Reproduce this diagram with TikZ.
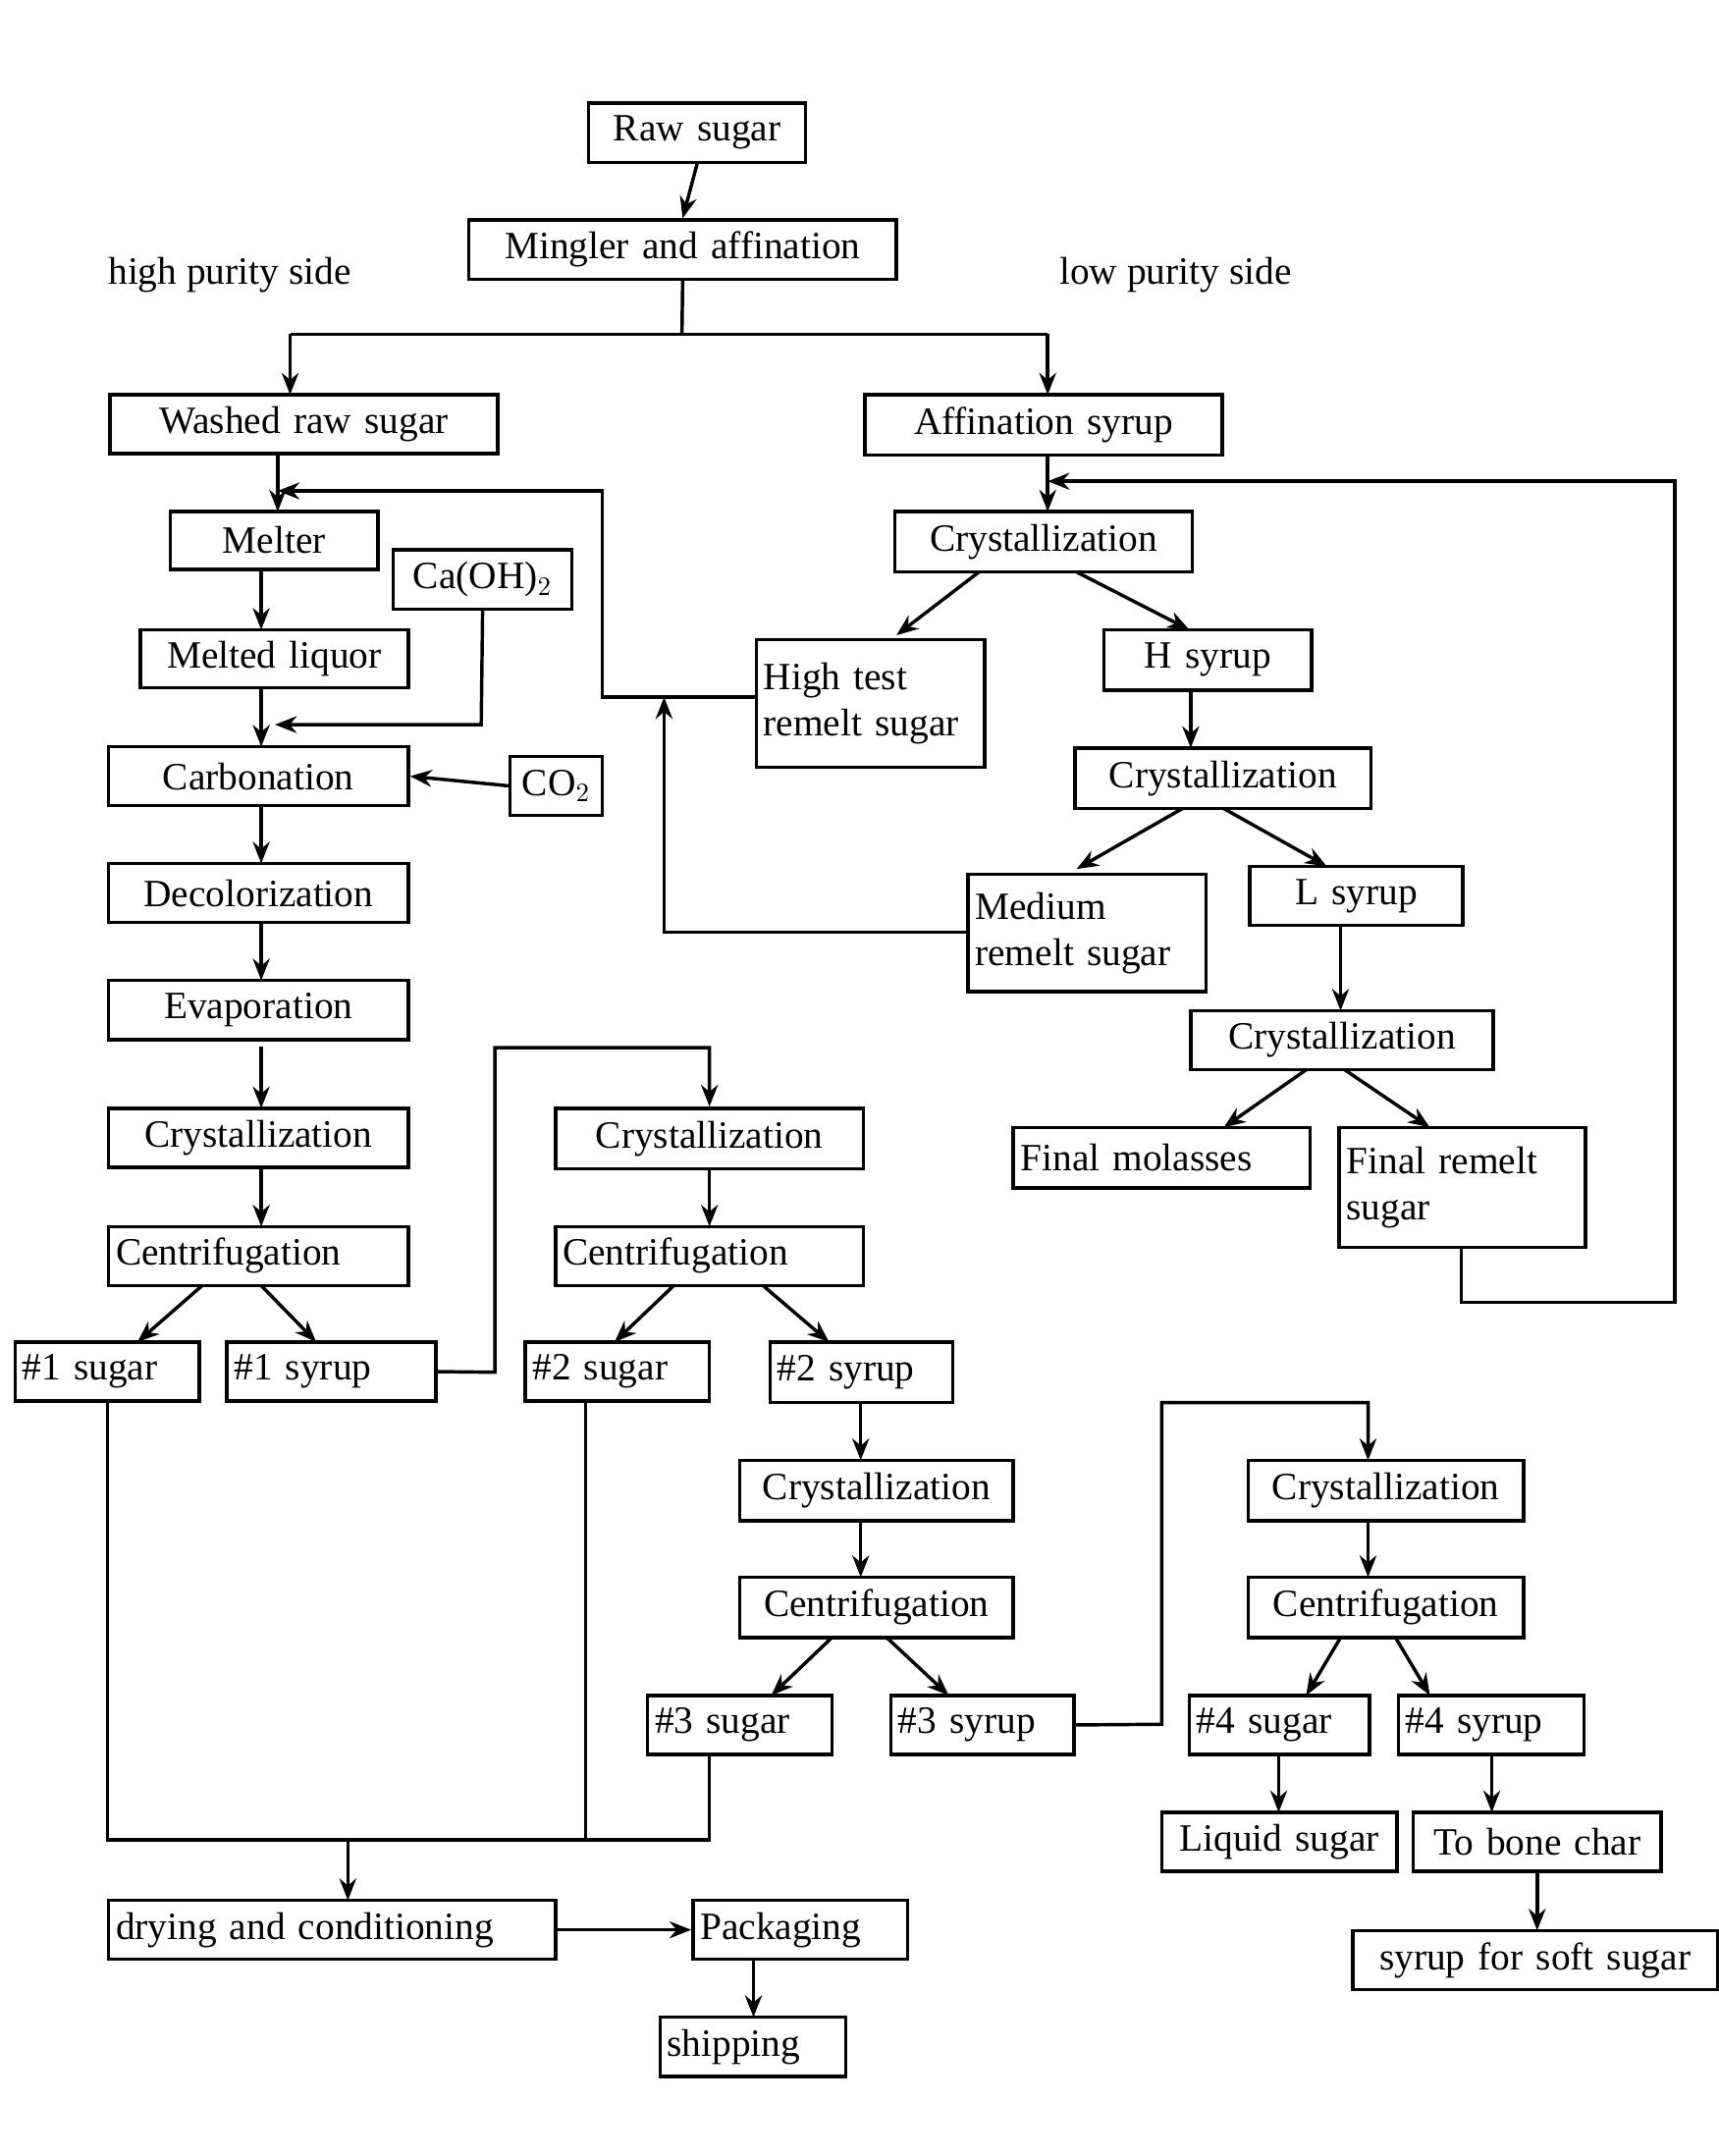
\documentclass[tikz,border=0pt]{standalone}
\usepackage{fontspec}
\setmainfont{Liberation Serif}
\usetikzlibrary{arrows.meta}
\begin{document}
\begin{tikzpicture}[x=0.02cm,y=-0.02cm,
  box/.style={draw,line width=1.4pt,inner xsep=3pt,inner ysep=0pt,font=\fontsize{16}{19}\selectfont},
  ln/.style={line width=1.4pt},
  ar/.style={line width=1.4pt,-{Stealth[length=9pt,width=7pt]}},
  lab/.style={font=\fontsize{16}{19}\selectfont}]
\useasboundingbox (0,0) rectangle (1250,1568);
\newcommand\bx[7][center]{%
  \pgfmathsetmacro\bw{(#5-#3)*0.02}\pgfmathsetmacro\bh{(#6-#4)*0.02}%
  \node[box,align=#1,text width=\bw cm-6pt,minimum width=\bw cm,minimum height=\bh cm] (#2) at ({(#3+#5)/2},{(#4+#6)/2}) {#7};}
\bx{raw}{428}{75}{586}{118}{Raw sugar}
\bx{ming}{341}{160}{652}{203}{Mingler and affination}
\node[lab] (hp) at (167,200) {high purity side};
\node[lab] (lp) at (855,200) {low purity side};
\bx{wash}{80}{287}{362}{330}{Washed raw sugar}
\bx{affs}{629}{287}{889}{331}{Affination syrup}
\bx{melt}{124}{372}{275}{414}{Melter}
\bx{caoh}{286}{400}{416}{443}{Ca(OH)$_2$}
\bx{mliq}{102}{458}{297}{500}{Melted liquor}
\bx{carb}{79}{543}{297}{586}{Carbonation}
\bx{co2}{371}{550}{438}{593}{CO$_2$}
\bx{deco}{79}{628}{297}{671}{Decolorization}
\bx{evap}{79}{713}{297}{756}{Evaporation}
\bx{cra}{79}{806}{297}{849}{Crystallization}
\bx[left]{cea}{79}{892}{297}{935}{Centrifugation}
\bx[left]{s1}{11}{976}{145}{1019}{\#1 sugar}
\bx[left]{y1}{165}{976}{317}{1019}{\#1 syrup}
\bx{crb}{404}{806}{628}{850}{Crystallization}
\bx[left]{ceb}{404}{892}{628}{935}{Centrifugation}
\bx[left]{s2}{382}{976}{516}{1019}{\#2 sugar}
\bx[left]{y2}{560}{976}{693}{1020}{\#2 syrup}
\bx{crc}{538}{1062}{737}{1106}{Crystallization}
\bx{cec}{538}{1147}{737}{1191}{Centrifugation}
\bx[left]{s3}{471}{1233}{605}{1276}{\#3 sugar}
\bx[left]{y3}{648}{1233}{781}{1276}{\#3 syrup}
\bx{crd}{908}{1062}{1108}{1106}{Crystallization}
\bx{ced}{908}{1147}{1108}{1191}{Centrifugation}
\bx[left]{s4}{865}{1233}{996}{1276}{\#4 sugar}
\bx[left]{y4}{1017}{1233}{1152}{1276}{\#4 syrup}
\bx{liq}{845}{1318}{1016}{1361}{Liquid sugar}
\bx{bone}{1028}{1318}{1208}{1361}{To bone char}
\bx{soft}{984}{1404}{1249}{1447}{syrup for soft sugar}
\bx[left]{dry}{79}{1382}{404}{1425}{drying and conditioning}
\bx[left]{pack}{504}{1382}{660}{1425}{Packaging}
\bx[left]{ship}{480}{1467}{615}{1510}{shipping}
\bx{cr1}{651}{372}{867}{416}{Crystallization}
\bx[left]{hts}{550}{465}{716}{558}{High test\\remelt sugar}
\bx{hs}{803}{458}{954}{502}{H syrup}
\bx{cr2}{782}{544}{997}{588}{Crystallization}
\bx[left]{mrs}{704}{636}{877}{721}{Medium\\remelt sugar}
\bx{ls}{909}{630}{1064}{673}{L syrup}
\bx{cr3}{866}{735}{1086}{778}{Crystallization}
\bx[left]{fm}{737}{820}{953}{864}{Final molasses}
\bx[left]{frs}{974}{820}{1153}{907}{Final remelt\\sugar}
% connectors
\draw[ar] (raw.south) -- (ming.north);
\draw[ln] (ming.south) -- (496,243);
\draw[ar] (211,243) -- (211,287);
\draw[ar] (762,243) -- (762,287);
\draw[ln] (211,243) -- (762,243);
\draw[ar] (202,330) -- (202,372);
\draw[ar] (hts.west |- 0,507) -- (438,507) -- (438,357) -- (202,357);
\draw[ar] (190,414) -- (190,458);
\draw[ar] (190,500) -- (190,543);
\draw[ar] (caoh.south) -- (350,527) -- (200,527);
\draw[ar] (co2.west) -- (carb.east);
\draw[ar] (190,586) -- (190,628);
\draw[ar] (190,671) -- (190,713);
\draw[ar] (190,761) -- (190,806);
\draw[ar] (190,849) -- (190,892);
\draw[ar] (147,935) -- (100,976);
\draw[ar] (190,935) -- (230,976);
\draw[ar] (y1.east) -- (360,998) -- (360,762) -- (516,762) -- (crb.north);
\draw[ar] (516,850) -- (516,892);
\draw[ar] (490,935) -- (447,976);
\draw[ar] (555,935) -- (603,976);
\draw[ar] (626,1020) -- (626,1062);
\draw[ar] (626,1106) -- (626,1147);
\draw[ar] (605,1191) -- (561,1233);
\draw[ar] (645,1191) -- (690,1233);
\draw[ar] (y3.east) -- (845,1254) -- (845,1020) -- (995,1020) -- (995,1062);
\draw[ar] (995,1106) -- (995,1147);
\draw[ar] (975,1191) -- (950,1233);
\draw[ar] (1015,1191) -- (1040,1233);
\draw[ar] (930,1276) -- (930,1318);
\draw[ar] (1085,1276) -- (1085,1318);
\draw[ar] (1118,1361) -- (1118,1404);
\draw[ln] (78,1019) -- (78,1338) -- (516,1338) -- (516,1276);
\draw[ln] (426,1019) -- (426,1338);
\draw[ar] (253,1338) -- (253,1382);
\draw[ar] (dry.east) -- (pack.west);
\draw[ar] (548,1425) -- (548,1467);
\draw[ar] (762,331) -- (762,372);
\draw[ar] (1063,907) -- (1063,947) -- (1218,947) -- (1218,350) -- (762,350);
\draw[ar] (712,416) -- (652,462);
\draw[ar] (783,416) -- (865,458);
\draw[ar] (866,502) -- (866,544);
\draw[ar] (860,588) -- (783,632);
\draw[ar] (890,588) -- (965,630);
\draw[ar] (mrs.west |- 0,678) -- (483,678) -- (483,507);
\draw[ar] (975,673) -- (975,735);
\draw[ar] (950,778) -- (890,820);
\draw[ar] (978,778) -- (1040,820);
\end{tikzpicture}
\end{document}
